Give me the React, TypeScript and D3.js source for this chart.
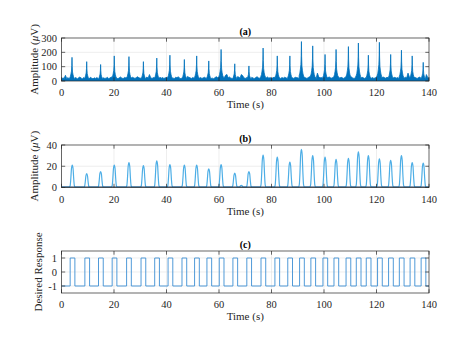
import React from "react";
import * as d3 from "d3";

// ---------- data ----------
const xTicks = [0, 20, 40, 60, 80, 100, 120, 140];

// (a) raw signal: peak times (s) and heights (µV)
const aPeakTimes = [4.0, 9.6, 14.9, 20.1, 25.7, 31.2, 36.3, 41.3, 46.8, 51.5, 56.1, 60.8, 66.0, 71.4, 76.8, 82.2, 87.0, 91.4, 95.7, 100.4, 104.6, 109.3, 113.1, 116.9, 121.1, 125.4, 129.5, 133.6, 137.8];
const aPeakHeights = [165, 135, 115, 175, 170, 135, 160, 180, 150, 175, 140, 220, 120, 105, 230, 175, 175, 275, 245, 185, 220, 240, 265, 180, 270, 185, 215, 175, 130];
// (a) background activity, every 0.5 s from 0 to 140 s
const aBaseline = [
  8, 22, 18, 40, 16, 24, 12, 20, 26, 30, 18, 25, 14, 22, 28, 20, 16, 24, 30, 22,
  18, 14, 26, 20, 15, 22, 18, 24, 16, 30, 20, 14, 22, 18, 20, 26, 16, 22, 28, 24,
  20, 18, 24, 16, 22, 28, 20, 17, 25, 22, 18, 24, 20, 15, 26, 22, 18, 24, 30, 22,
  20, 16, 24, 18, 22, 28, 20, 45, 22, 18, 24, 30, 20, 16, 22, 26, 20, 24, 18, 22,
  24, 28, 20, 16, 24, 20, 18, 26, 22, 30, 20, 16, 22, 18, 24, 20, 32, 26, 22, 18,
  24, 20, 16, 22, 28, 20, 24, 18, 22, 26, 20, 24, 18, 40, 22, 20, 16, 24, 30, 22,
  24, 20, 18, 26, 22, 40, 46, 22, 28, 20, 18, 24, 16, 22, 30, 28, 20, 45, 38, 22,
  18, 24, 20, 16, 22, 26, 20, 18, 24, 30, 22, 18, 26, 20, 24, 18, 22, 28, 20, 24,
  18, 22, 26, 20, 24, 28, 22, 18, 24, 20, 26, 22, 18, 24, 30, 20, 22, 18, 26, 24,
  22, 18, 24, 28, 20, 26, 22, 18, 24, 30, 22, 26, 20, 24, 18, 55, 28, 22, 24, 20,
  26, 22, 18, 24, 28, 22, 20, 26, 18, 24, 22, 30, 20, 26, 22, 18, 24, 28, 22, 20,
  24, 28, 20, 18, 26, 22, 24, 30, 20, 26, 22, 18, 24, 28, 22, 26, 20, 24, 18, 22,
  26, 20, 24, 18, 22, 28, 24, 20, 26, 22, 18, 24, 30, 22, 26, 20, 24, 18, 22, 28,
  24, 20, 26, 22, 55, 30, 22, 24, 20, 26, 22, 18, 24, 28, 22, 20, 26, 30, 45, 24, 20,
];

// (b) envelope: peak times (s) and heights (µV)
const bPeakTimes = [4.1, 9.6, 14.9, 20.1, 25.7, 31.2, 36.3, 41.3, 46.8, 51.5, 56.1, 60.8, 66.0, 68.5, 71.4, 76.8, 82.2, 87.0, 91.4, 95.7, 100.4, 104.6, 109.3, 113.1, 116.9, 121.1, 125.4, 129.5, 133.6, 137.8];
const bPeakHeights = [21, 13, 15, 21, 23.5, 20.5, 25, 21.5, 21, 21, 17.5, 21.5, 13.5, 2, 15, 30.5, 28.5, 24, 36, 30, 28.5, 26.5, 27.5, 33.5, 30, 27, 25.5, 30, 23.5, 23];

// (c) desired response: stimulus on / off times (s)
const stimOn = [3.3, 8.9, 14.1, 19.3, 24.8, 30.3, 35.5, 40.6, 45.9, 50.7, 55.4, 60.1, 65.3, 70.6, 76.0, 81.3, 86.2, 90.7, 95.0, 99.6, 103.8, 108.4, 112.3, 116.1, 120.4, 124.6, 128.7, 132.8, 137.0];
const stimOff = [5.1, 10.7, 15.9, 21.1, 26.6, 32.1, 37.3, 42.4, 47.7, 52.5, 57.2, 61.9, 67.1, 72.4, 77.8, 83.1, 88.0, 92.5, 96.8, 101.4, 105.6, 110.2, 114.1, 117.9, 122.2, 126.4, 130.5, 134.6, 138.8];

// ---------- layout ----------
const X0 = 61.5, X1 = 429;
const FONT = "'Liberation Serif', 'Times New Roman', serif";
const AXIS_COLOR = "#262626";
const GRID = "#e3e3e3";

const x = d3.scaleLinear().domain([0, 140]).range([X0, X1]);

type Pt = { t: number; v: number };

function buildA(): Pt[] {
  const pts: Pt[] = [];
  aBaseline.forEach((v, i) => {
    const t = i * 0.5;
    const near = aPeakTimes.some((p) => Math.abs(p - t) < 0.9);
    if (!near) pts.push({ t, v });
  });
  const offs = [-0.85, -0.6, -0.4, -0.2, -0.08, 0, 0.08, 0.2, 0.4, 0.6, 0.85];
  const fr = [0.14, 0.2, 0.3, 0.42, 0.65, 1, 0.62, 0.38, 0.26, 0.18, 0.12];
  aPeakTimes.forEach((p, i) => {
    offs.forEach((o, k) => pts.push({ t: p + o, v: Math.max(fr[k] * aPeakHeights[i], 18) }));
  });
  pts.sort((a, b) => a.t - b.t);
  return pts.filter((p) => p.t >= 0 && p.t <= 140);
}

function buildB(): Pt[] {
  const pts: Pt[] = [{ t: 0, v: 0.3 }];
  const offs = [-1.1, -0.8, -0.55, -0.3, 0, 0.3, 0.55, 0.8, 1.1];
  const fr = [0, 0.08, 0.4, 0.85, 1, 0.85, 0.4, 0.08, 0];
  bPeakTimes.forEach((p, i) => {
    offs.forEach((o, k) => pts.push({ t: p + o, v: Math.max(fr[k] * bPeakHeights[i], 0.3) }));
  });
  pts.push({ t: 140, v: 0.3 });
  return pts.filter((p) => p.t >= 0 && p.t <= 140);
}

function buildC(): Pt[] {
  const pts: Pt[] = [{ t: 0, v: -1 }];
  stimOn.forEach((on, i) => {
    pts.push({ t: on, v: -1 }, { t: on, v: 1 }, { t: stimOff[i], v: 1 }, { t: stimOff[i], v: -1 });
  });
  pts.push({ t: 140, v: -1 });
  return pts.map((p) => ({ t: Math.min(p.t, 140), v: p.v }));
}

type PanelProps = {
  top: number;
  bottom: number;
  domain: [number, number];
  yTicks: number[];
  title: string;
  yLabel: React.ReactNode;
  yLabelX: number;
  children: (y: d3.ScaleLinear<number, number>) => React.ReactNode;
};

function Panel({ top, bottom, domain, yTicks, title, yLabel, yLabelX, children }: PanelProps) {
  const y = d3.scaleLinear().domain(domain).range([bottom, top]);
  const tl = 3.7;
  const clipId = "clip" + title.replace(/[^a-z]/g, "");
  return (
    <g>
      <defs>
        <clipPath id={clipId}>
          <rect x={X0} y={top} width={X1 - X0} height={bottom - top} />
        </clipPath>
      </defs>
      <rect x={X0} y={top} width={X1 - X0} height={bottom - top} fill="#fff" />
      {xTicks.slice(1, -1).map((t) => (
        <line key={"gx" + t} x1={x(t)} x2={x(t)} y1={top} y2={bottom} stroke={GRID} strokeWidth={0.6} />
      ))}
      {yTicks.filter((v) => v !== domain[0] && v !== domain[1]).map((v) => (
        <line key={"gy" + v} x1={X0} x2={X1} y1={y(v)} y2={y(v)} stroke={GRID} strokeWidth={0.6} />
      ))}
      <g clipPath={`url(#${clipId})`}>{children(y)}</g>
      <rect x={X0} y={top} width={X1 - X0} height={bottom - top} fill="none" stroke={AXIS_COLOR} strokeWidth={0.7} />
      {xTicks.map((t) => (
        <g key={"tx" + t}>
          <line x1={x(t)} x2={x(t)} y1={bottom} y2={bottom - tl} stroke={AXIS_COLOR} strokeWidth={0.7} />
          <line x1={x(t)} x2={x(t)} y1={top} y2={top + tl} stroke={AXIS_COLOR} strokeWidth={0.7} />
          <text x={x(t)} y={bottom + 15} textAnchor="middle" fontSize={10.5} fontFamily={FONT} fill={AXIS_COLOR}>
            {t}
          </text>
        </g>
      ))}
      {yTicks.map((v) => (
        <g key={"ty" + v}>
          <line x1={X0} x2={X0 + tl} y1={y(v)} y2={y(v)} stroke={AXIS_COLOR} strokeWidth={0.7} />
          <line x1={X1} x2={X1 - tl} y1={y(v)} y2={y(v)} stroke={AXIS_COLOR} strokeWidth={0.7} />
          <text x={X0 - 4.5} y={y(v) + 3.6} textAnchor="end" fontSize={10.5} fontFamily={FONT} fill={AXIS_COLOR}>
            {v}
          </text>
        </g>
      ))}
      <text x={(X0 + X1) / 2} y={top - 3.5} textAnchor="middle" fontSize={10} fontWeight="bold" fontFamily={FONT} fill="#000">
        {title}
      </text>
      <text x={(X0 + X1) / 2} y={bottom + 27} textAnchor="middle" fontSize={11} fontFamily={FONT} fill={AXIS_COLOR}>
        Time (s)
      </text>
      <text
        transform={`translate(${yLabelX},${(top + bottom) / 2}) rotate(-90)`}
        textAnchor="middle"
        fontSize={11}
        fontFamily={FONT}
        fill={AXIS_COLOR}
      >
        {yLabel}
      </text>
    </g>
  );
}

export default function App() {
  const aData = buildA();
  const bData = buildB();
  const cData = buildC();

  const ampLabel = (
    <>
      Amplitude (<tspan fontStyle="italic">μ</tspan>V)
    </>
  );

  return (
    <svg
      width={474}
      height={355}
      style={{ position: "absolute", left: 0, top: 0, background: "#fff" }}
    >
      <rect width={474} height={355} fill="#fff" />
      <Panel top={38} bottom={81} domain={[0, 300]} yTicks={[0, 100, 200, 300]} title="(a)" yLabel={ampLabel} yLabelX={38}>
        {(y) => {
          const area = d3
            .area<Pt>()
            .x((d) => x(d.t))
            .y0(y(0))
            .y1((d) => y(d.v));
          const line = d3
            .line<Pt>()
            .x((d) => x(d.t))
            .y((d) => y(d.v));
          return (
            <>
              <path d={area(aData) || ""} fill="#0072BD" />
              <path d={line(aData) || ""} fill="none" stroke="#0072BD" strokeWidth={0.8} />
            </>
          );
        }}
      </Panel>
      <Panel top={145} bottom={187.5} domain={[0, 40]} yTicks={[0, 20, 40]} title="(b)" yLabel={ampLabel} yLabelX={38}>
        {(y) => {
          const line = d3
            .line<Pt>()
            .x((d) => x(d.t))
            .y((d) => y(d.v))
            .curve(d3.curveMonotoneX);
          return (
            <>
              <path d={line(bData) || ""} fill="none" stroke="#4DAEE6" strokeWidth={1.2} />
              <line x1={X0} x2={X1} y1={y(0.35)} y2={y(0.35)} stroke="#1c3f66" strokeWidth={1.1} />
            </>
          );
        }}
      </Panel>
      <Panel top={251} bottom={293} domain={[-1.5, 1.5]} yTicks={[-1, 0, 1]} title="(c)" yLabel="Desired Response" yLabelX={42}>
        {(y) => {
          const line = d3
            .line<Pt>()
            .x((d) => x(d.t))
            .y((d) => y(d.v));
          return <path d={line(cData) || ""} fill="none" stroke="#3D8FD4" strokeWidth={0.9} />;
        }}
      </Panel>
    </svg>
  );
}
